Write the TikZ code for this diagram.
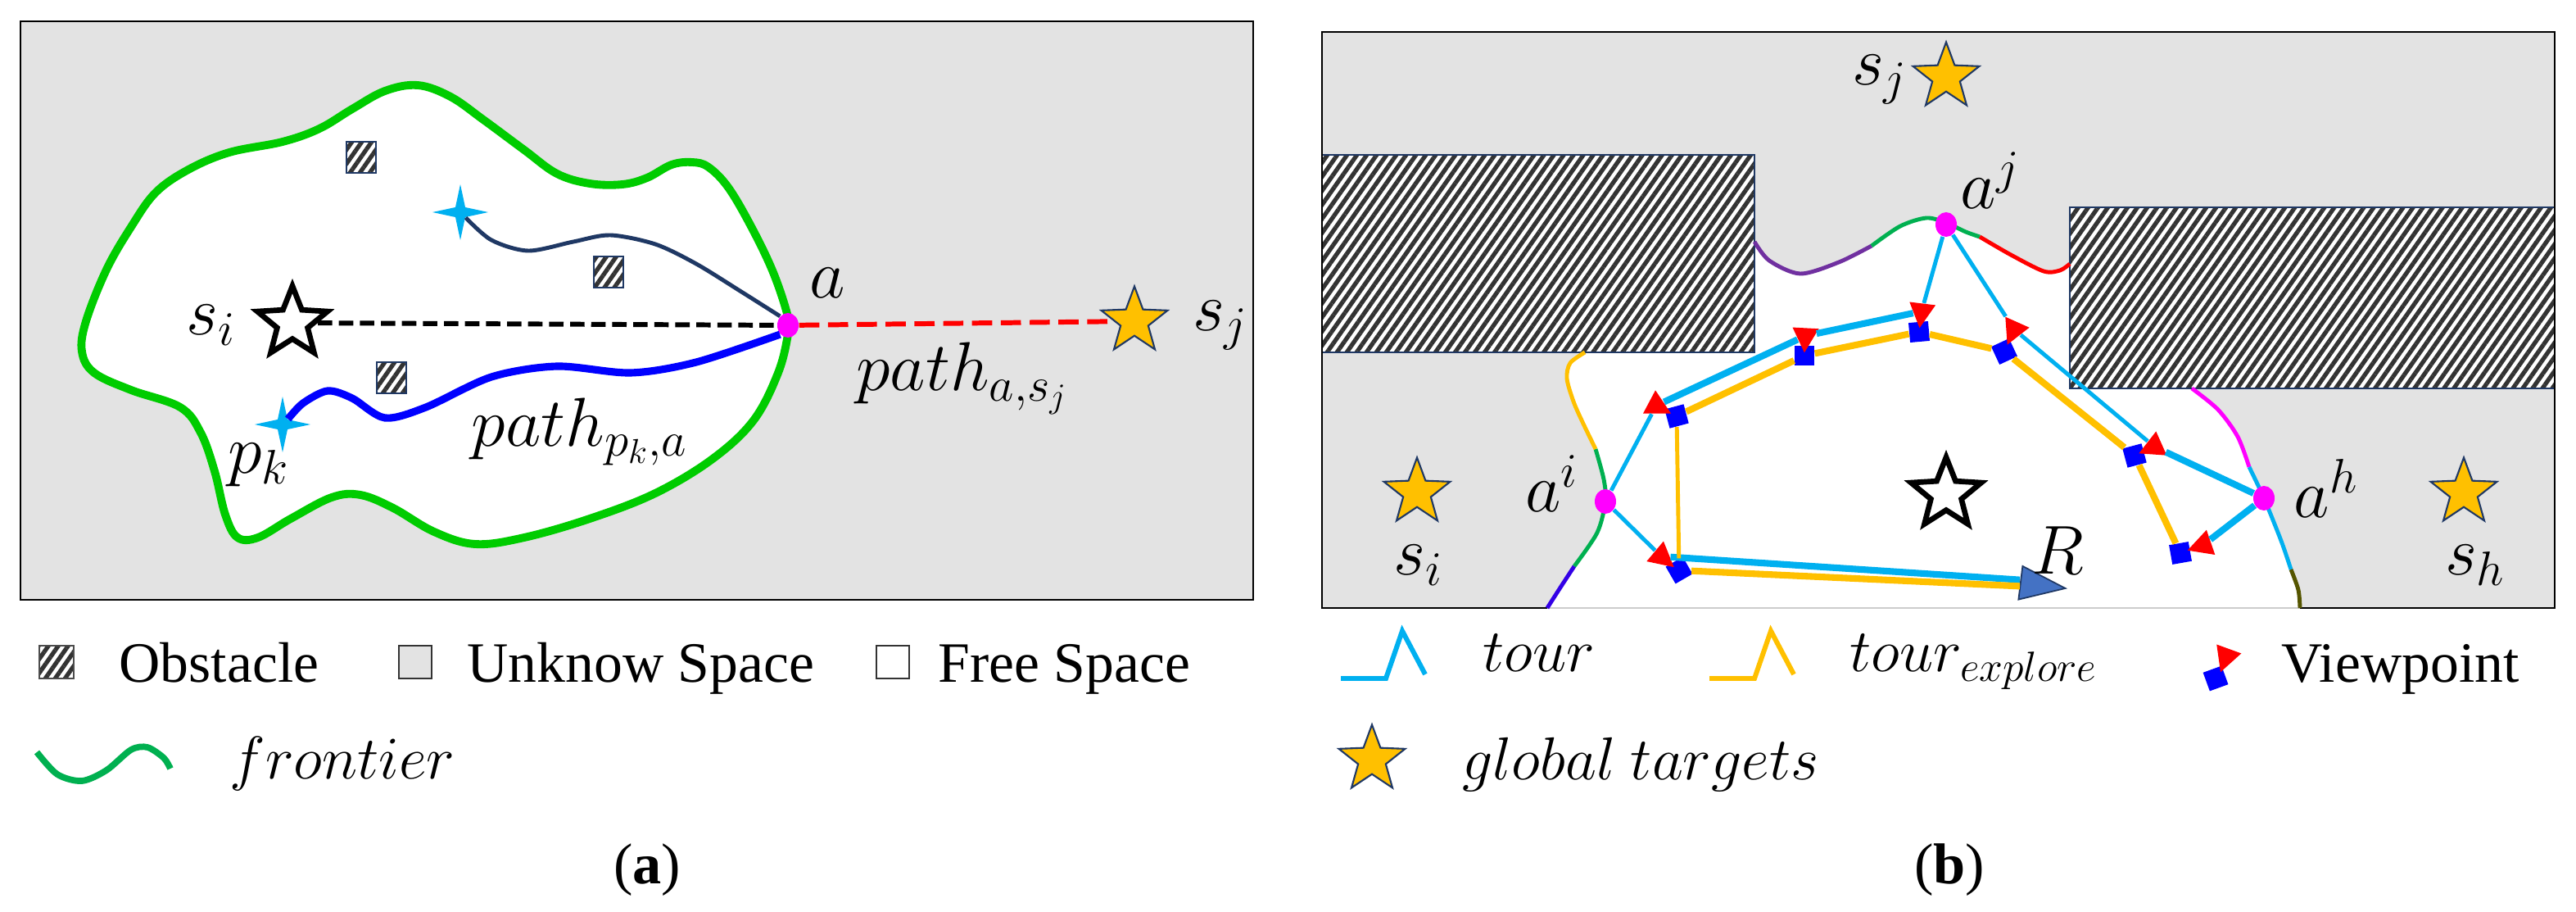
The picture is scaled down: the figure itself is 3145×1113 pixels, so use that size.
\RequirePackage{fix-cm}
\documentclass[tikz,border=0pt]{standalone}
\usepackage{fontspec}
\setmainfont{Liberation Serif}
\usepackage{tikz}
\usetikzlibrary{shapes.geometric}
\usetikzlibrary{patterns.meta}
\usetikzlibrary{positioning}

\definecolor{unknown}{RGB}{227,227,227}
\definecolor{tourc}{RGB}{0,176,240}
\definecolor{explc}{RGB}{255,192,0}
\definecolor{navy}{RGB}{31,56,100}
\definecolor{fgreen}{RGB}{0,204,0}
\definecolor{dgreen}{RGB}{0,176,80}
\definecolor{fpurple}{RGB}{112,48,160}
\definecolor{fviolet}{RGB}{51,0,230}
\definecolor{folive}{RGB}{85,85,0}
\definecolor{rblue}{RGB}{68,114,196}
\definecolor{fmag}{RGB}{255,0,255}
\definecolor{vpred}{RGB}{255,0,0}
\definecolor{vpblue}{RGB}{0,0,255}

\tikzset{hatch/.style={pattern={Lines[angle=55,distance=2.8pt,line width=1.5pt]},pattern color=black!80}}
\tikzset{target/.style={star,star points=5,star point ratio=2.4,minimum size=0.85cm,inner sep=0pt,fill=explc,draw=navy,line width=0.6pt}}
\tikzset{home/.style={star,star points=5,star point ratio=2.3,minimum size=0.9cm,inner sep=0pt,fill=white,draw=black,line width=1.9pt}}
\tikzset{sparkle/.style={star,star points=4,star point ratio=4,minimum size=0.68cm,inner sep=0pt,fill=tourc}}
\tikzset{anchorpt/.style={ellipse,fill=fmag,minimum width=0.26cm,minimum height=0.3cm,inner sep=0pt}}
\tikzset{vpsq/.style={rectangle,fill=vpblue,minimum size=0.24cm,inner sep=0pt}}
\tikzset{vptri/.style={isosceles triangle,isosceles triangle stretches=true,fill=vpred,minimum width=0.32cm,minimum height=0.3cm,inner sep=0pt}}
\tikzset{robot/.style={isosceles triangle,isosceles triangle stretches=true,fill=rblue,draw=navy,line width=0.5pt,minimum width=0.41cm,minimum height=0.55cm,inner sep=0pt}}
\tikzset{lbl/.style={font=\fontsize{24}{28}\selectfont,inner sep=0pt}}
\tikzset{legend/.style={font=\fontsize{19.8}{23}\selectfont,inner sep=0pt,anchor=base west}}
\tikzset{legmath/.style={font=\fontsize{21}{25}\selectfont,inner sep=0pt,anchor=base west}}
\tikzset{caption/.style={font=\fontsize{20}{24}\selectfont,inner sep=0pt,anchor=base}}
\tikzset{tourthin/.style={tourc,line width=1.4pt}}
\tikzset{tourthick/.style={tourc,line width=2.3pt}}
\tikzset{explthin/.style={explc,line width=1.4pt}}
\tikzset{explthick/.style={explc,line width=2.3pt}}
\tikzset{front/.style={line width=1.4pt}}

\begin{document}
\begin{tikzpicture}[x=0.01cm,y=-0.01cm]
\useasboundingbox (0,0) rectangle (3145,1113);

% (a)
\fill[unknown] (25,26) rectangle (1530,732);
\filldraw[fill=white,draw=fgreen,line width=2.8pt] plot[smooth cycle,tension=0.6] coordinates {
	(962,387) (945,335) (920,282) (890,230) (865,204) (845,198) (820,201) (790,217) (760,225)
	(720,224) (680,212) (640,183) (590,146) (550,118) (510,104) (470,111) (430,133) (390,157)
	(345,173) (280,186) (230,207) (190,235) (160,277) (130,329) (105,392) (100,429) (115,455)
	(160,476) (220,497) (245,528) (262,575) (275,628) (290,656) (315,656) (355,633) (405,607)
	(440,604) (480,620) (530,649) (580,664) (640,656) (720,633) (800,602) (870,560) (920,513)
	(950,455) (962,408)};
\draw[line width=0.8pt] (25,26) rectangle (1530,732);
\foreach \x/\y in {441/192,743/332,478/461} {
	\draw[hatch,draw=navy,line width=0.6pt] (\x-18,\y-19) rectangle (\x+18,\y+19);
}

\node[anchorpt] (A) at (962,397) {};
\node[home] (Si) at (357,394) {};
\node[target] (Sj) at (1385,392) {};
\node[sparkle] (P2) at (562,259) {};
\node[sparkle] (Pk) at (345,518) {};

\draw[black,line width=1.7pt,dash pattern=on 5pt off 2.3pt] (Si) -- (A);
\draw[vpred,line width=1.7pt,dash pattern=on 7pt off 3pt] (A) -- (Sj);
\draw[navy,line width=1.4pt] plot[smooth] coordinates {(P2.south east) (600,293) (645,306) (700,295) (745,287) (800,298) (850,322) (905,356) (A.north west)};
\draw[vpblue,line width=2.6pt] plot[smooth] coordinates {(Pk.north east) (370,492) (400,477) (430,486) (470,510) (520,497) (600,460) (680,447) (770,455) (850,442) (A.south west)};

\node[lbl] at (258,397) {$s_i$};
\node[lbl] at (1010,345) {$a$};
\node[lbl] at (1490,397) {$s_j$};
\node[lbl] at (1175,462) {$path_{a,s_j}$};
\node[lbl] at (708,527) {$path_{p_k,a}$};
\node[lbl] at (316,568) {$p_k$};

% legend (a)
\draw[hatch,draw=black!70,line width=0.6pt] (48,788) rectangle (90,828);
\node[legend] at (145,832) {Obstacle};
\filldraw[fill=unknown,draw=black!80,line width=0.6pt] (487,788) rectangle (527,828);
\node[legend] at (570,832) {Unknow Space};
\draw[black!80,line width=0.6pt] (1070,788) rectangle (1110,828);
\node[legend] at (1145,832) {Free Space};
\draw[dgreen,line width=2.2pt] plot[smooth] coordinates {(45,918) (70,945) (100,953) (130,940) (160,915) (180,912) (200,925) (208,938)};
\node[legmath] at (280,950) {$frontier$};
\node[caption] at (790,1078) {(\textbf{a})};

% (b)
\fill[unknown] (1614,39) rectangle (3119,742);
\fill[white] (1889,742) -- plot[smooth] coordinates {(1889,742) (1922,691) (1950,650) (1960,612) (1958,585) (1948,548) (1932,515) (1921,490) (1913,462) (1917,443) (1935,430)}
	-- (2142,430) -- plot[smooth] coordinates {(2142,295) (2160,318) (2198,334) (2245,320) (2285,300) (2320,276) (2352,266) (2376,272) (2400,283) (2417,289) (2455,311) (2495,331) (2515,330) (2527,322)}
	-- (2527,474) -- plot[smooth] coordinates {(2676,474) (2708,500) (2732,533) (2746,570) (2764,608) (2785,660) (2797,695) (2806,720) (2808,742)} -- cycle;
\draw[hatch,preaction={fill=white},draw=navy,line width=0.6pt] (1614,189) rectangle (2142,430);
\draw[hatch,preaction={fill=white},draw=navy,line width=0.6pt] (2527,253) rectangle (3119,474);
\draw[line width=0.8pt] (1889,742) -- (1614,742) -- (1614,39) -- (3119,39) -- (3119,742) -- (2808,742);
\draw[black!20,line width=0.6pt] (1889,742) -- (2808,742);

% frontiers
\draw[front,fviolet] plot[smooth] coordinates {(1889,742) (1905,717) (1922,691)};
\draw[front,dgreen] plot[smooth] coordinates {(1922,691) (1950,650) (1960,612) (1958,585) (1948,548)};
\draw[front,explc] plot[smooth] coordinates {(1948,548) (1932,515) (1921,490) (1913,462) (1917,443) (1935,430)};
\draw[front,fpurple] plot[smooth] coordinates {(2142,295) (2160,318) (2198,334) (2245,320) (2285,300)};
\draw[front,dgreen] plot[smooth] coordinates {(2285,300) (2320,276) (2352,266) (2376,272) (2400,283) (2417,289)};
\draw[front,vpred] plot[smooth] coordinates {(2417,289) (2455,311) (2495,331) (2515,330) (2527,322)};
\draw[front,fmag] plot[smooth] coordinates {(2676,474) (2708,500) (2732,533) (2746,570)};
\draw[front,tourc] plot[smooth] coordinates {(2746,570) (2764,608) (2785,660) (2797,695)};
\draw[front,folive] plot[smooth] coordinates {(2797,695) (2806,720) (2808,742)};

% viewpoints: index / triangle / angle / square / angle
\foreach \i/\tx/\ty/\ta/\sx/\sy/\sa in {1/2022/495/-28/2047/508/15, 2/2204/410/-93/2203/434/0,
	3/2346/380/-97/2343/405/5, 4/2459/402/-114/2447/429/25, 5/2028/679/-40/2050/696/30,
	6/2630/545/204/2606/556/15, 7/2690/665/199/2662/675/10} {
	\node[vpsq,rotate=\sa] (vs\i) at (\sx,\sy) {};
	\node[vptri,rotate=\ta] (vt\i) at (\tx,\ty) {};
}
\node[anchorpt] (Ai) at (1960,612) {};
\node[anchorpt] (Aj) at (2376,274) {};
\node[anchorpt] (Ah) at (2764,608) {};
\node[robot,rotate=-7] (R) at (2481,713) {};

\draw[tourthin] (Ai) -- (vt1);
\draw[tourthick] (vt1) -- (vt2) -- (vt3);
\draw[tourthin] (Aj) -- (vt3);
\draw[tourthin] (Aj) -- (vt4) -- (vt6);
\draw[tourthick] (vt6) -- (Ah) -- (vt7);
\draw[tourthin] (Ai) -- (vt5);
\draw[tourthick] (vt5) -- ([yshift=1pt]R.west);
\draw[explthin] (vs5) -- (vs1);
\draw[explthick] (vs1) -- (vs2) -- (vs3) -- (vs4) -- (vs6) -- (vs7);
\draw[explthick] (vs5) -- ([yshift=-1.2pt]R.west);

\node[target] (bSj) at (2376,94) {};
\node[target] (bSi) at (1730,601) {};
\node[target] (bSh) at (3008,601) {};
\node[home] (C) at (2376,603) {};

\node[lbl] at (2295,97) {$s_j$};
\node[lbl] at (2430,220) {$a^j$};
\node[lbl] at (1895,590) {$a^i$};
\node[lbl] at (2840,596) {$a^h$};
\node[lbl] at (1732,690) {$s_i$};
\node[lbl] at (3022,690) {$s_h$};
\node[lbl] at (2512,672) {$R$};

% legend (b)
\draw[tourc,line width=1.7pt] (1637,828) -- (1692,828) -- (1712,770) -- (1740,823);
\node[legmath] at (1810,820) {$tour$};
\draw[explc,line width=1.7pt] (2087,828) -- (2142,828) -- (2162,770) -- (2190,823);
\node[legmath] at (2258,820) {$tour_{explore}$};
\node[vpsq,rotate=20] (lvs) at (2705,828) {};
\node[vptri,rotate=-110] (lvt) at (2718,801) {};
\node[legend] at (2785,832) {Viewpoint};
\node[target] (lst) at (1675,927) {};
\node[legmath] at (1785,952) {$global\ targets$};
\node[caption] at (2380,1078) {(\textbf{b})};

\end{tikzpicture}
\end{document}
